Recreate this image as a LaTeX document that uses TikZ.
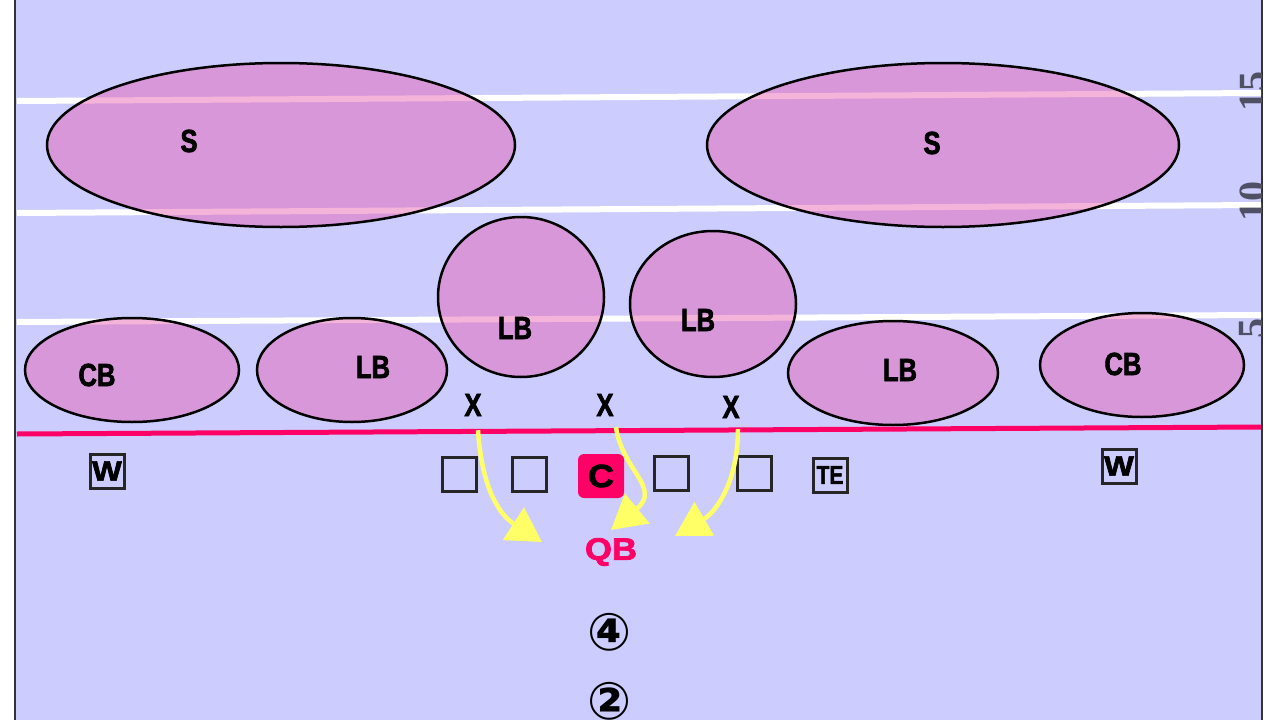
\documentclass[tikz,border=0pt]{standalone}
\usepackage{fontspec}
\setmainfont{Liberation Sans}
\newfontfamily\narrowfont[FakeStretch=0.8,FakeBold=2]{Liberation Sans}
\newfontfamily\widefont[FakeStretch=1.12,FakeBold=2.5]{Liberation Sans}
\newfontfamily\circfont{DejaVu Sans}
\newfontfamily\yardfont{Liberation Serif}
\usetikzlibrary{shapes.geometric,arrows.meta}

\definecolor{field}{RGB}{204,204,255}
\definecolor{zonefill}{RGB}{231,88,169}
\definecolor{scrim}{RGB}{255,0,102}
\definecolor{rush}{RGB}{255,255,102}
\definecolor{yardnum}{RGB}{80,80,100}

\begin{document}
\begin{tikzpicture}[x=1pt,y=-1pt,
    zone/.style={ellipse, draw=black, line width=2.5pt, fill=zonefill, fill opacity=0.45, inner sep=0pt},
    tag/.style={font=\narrowfont\bfseries\fontsize{32}{32}\selectfont, inner sep=0pt},
    lineman/.style={draw=black!85, line width=3pt, minimum size=34pt, inner sep=0pt},
    rushline/.style={rush, line width=4.5pt, -{Triangle[length=34pt,width=38pt]}}]
        \useasboundingbox (0,0) rectangle (1280,720);
        \fill[white] (0,0) rectangle (1280,720);
        \fill[field] (15,0) rectangle (1262,720);
        \draw[black!80, line width=2.5pt] (15,0) -- (15,720) (1262,0) -- (1262,720);

        % yard lines
        \draw[white, line width=6pt] (17,101) -- (1261,93);
        \draw[white, line width=6pt] (17,213) -- (1261,205);
        \draw[white, line width=6pt] (17,322) -- (1261,315);
        \begin{scope}
            \clip (16,0) rectangle (1261,720);
            \node[rotate=90, text=yardnum, font=\yardfont\bfseries\fontsize{40}{40}\selectfont] (y15) at (1253,91) {15};
            \node[rotate=90, text=yardnum, font=\yardfont\bfseries\fontsize{40}{40}\selectfont] (y10) at (1253,201) {10};
            \node[rotate=90, text=yardnum, font=\yardfont\bfseries\fontsize{40}{40}\selectfont] (y5) at (1253,328) {5};
        \end{scope}

        % defensive zones
        \node[zone, minimum width=468pt, minimum height=164pt] (sl) at (281,145) {};
        \node[zone, minimum width=472pt, minimum height=164pt] (sr) at (943,145) {};
        \node[zone, minimum width=166pt, minimum height=160pt] (lbi) at (521,297) {};
        \node[zone, minimum width=166pt, minimum height=146pt] (lbj) at (713,304) {};
        \node[zone, minimum width=214pt, minimum height=104pt] (cbl) at (132,370) {};
        \node[zone, minimum width=190pt, minimum height=104pt] (lbl) at (352,370) {};
        \node[zone, minimum width=210pt, minimum height=104pt] (lbr) at (893,373) {};
        \node[zone, minimum width=204pt, minimum height=104pt] (cbr) at (1142,365) {};

        \node[tag] (tsl) at (189,141) {S};
        \node[tag] (tsr) at (932,143) {S};
        \node[tag] (tlbi) at (515,328) {LB};
        \node[tag] (tlbj) at (698,320) {LB};
        \node[tag] (tlbl) at (373,367) {LB};
        \node[tag] (tlbr) at (900,370) {LB};
        \node[tag] (tcbl) at (97,375) {CB};
        \node[tag] (tcbr) at (1123,364) {CB};

        % line of scrimmage
        \draw[scrim, line width=5pt] (17,434) -- (1261,427);

        % rushers
        \node[tag] (xa) at (473,405) {X};
        \node[tag] (xb) at (605,405) {X};
        \node[tag] (xc) at (731,407) {X};

        % offence
        \node[lineman] (g1) at (459,474) {};
        \node[lineman] (t1) at (529,474) {};
        \node[fill=scrim, rounded corners=6pt, minimum width=46pt, minimum height=44pt, inner sep=0pt,
              font=\widefont\bfseries\fontsize{32}{32}\selectfont] (ctr) at (601,476) {C};
        \node[lineman] (g2) at (671,473) {};
        \node[lineman] (t2) at (754,473) {};
        \node[lineman, font=\narrowfont\bfseries\fontsize{26}{26}\selectfont] (te) at (830,475) {TE};
        \node[lineman, font=\widefont\bfseries\fontsize{28}{28}\selectfont] (wl) at (107,471) {W};
        \node[lineman, font=\widefont\bfseries\fontsize{28}{28}\selectfont] (wr) at (1119,466) {W};
        \node[text=scrim, font=\widefont\bfseries\fontsize{31}{31}\selectfont] (qb) at (611,552) {QB};
        \node[font=\circfont\bfseries\fontsize{52}{52}\selectfont] (n4) at (610,632) {④};
        \node[font=\circfont\bfseries\fontsize{52}{52}\selectfont] (n2) at (610,701) {②};

        % rush paths
        \coordinate (ea) at (542,542);
        \coordinate (eb) at (611,530);
        \coordinate (ec) at (675,536);
        \draw[rushline] ([xshift=5pt,yshift=-14pt]xa.south) .. controls (482,490) and (500,515) .. (ea);
        \draw[rushline] ([xshift=11pt,yshift=-11pt]xb.south) .. controls (622,470) and (662,488) .. (eb);
        \draw[rushline] ([xshift=7pt,yshift=-11pt]xc.south) .. controls (738,482) and (716,512) .. (ec);
    \end{tikzpicture}
\end{document}
